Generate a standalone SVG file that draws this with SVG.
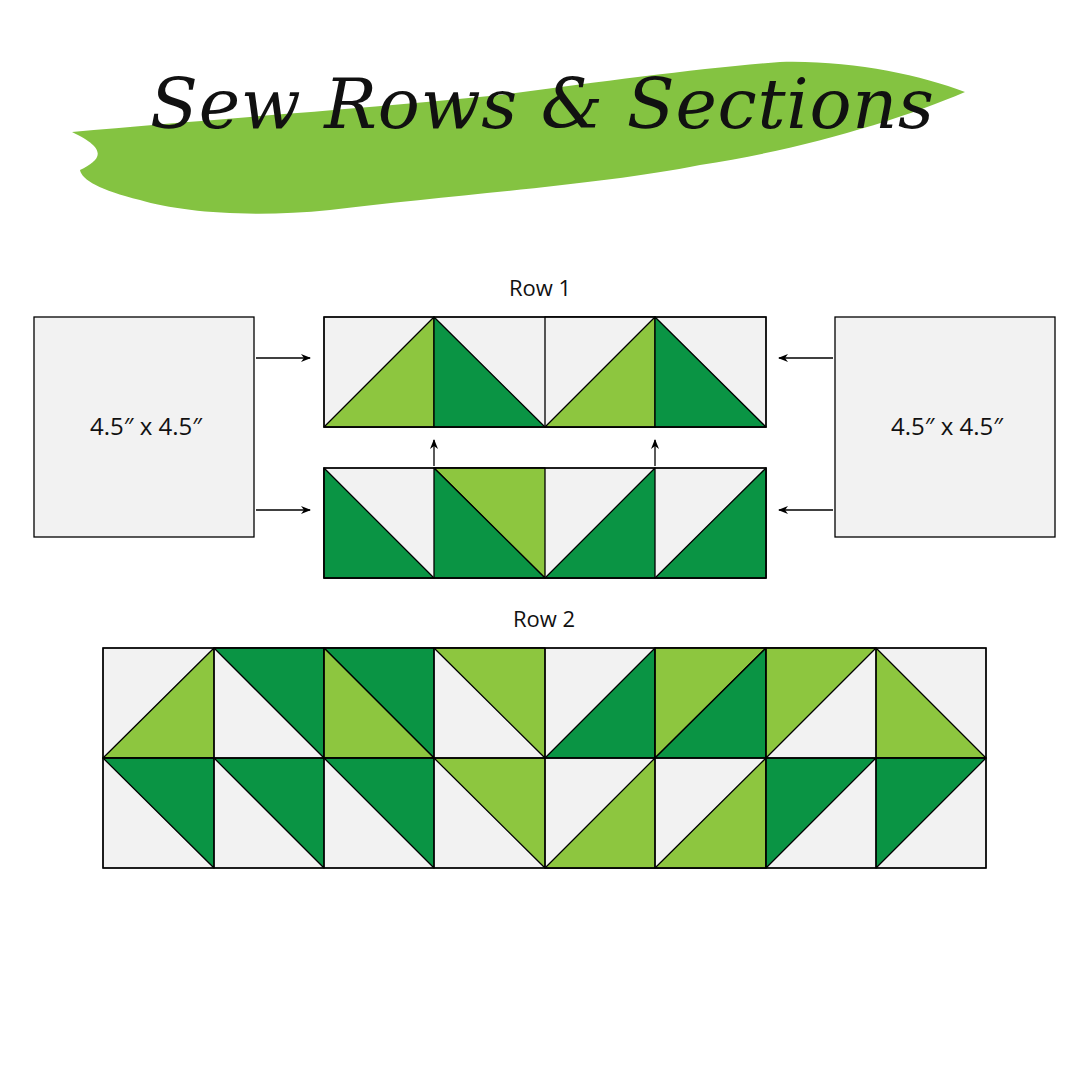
<svg xmlns="http://www.w3.org/2000/svg" width="1080" height="1080" viewBox="0 0 1080 1080">
<style>
.g{fill:#f2f2f2;stroke:#000;stroke-width:1.3}
.l{fill:#8dc63f;stroke:#000;stroke-width:1.3;stroke-linejoin:round}
.d{fill:#0a9444;stroke:#000;stroke-width:1.3;stroke-linejoin:round}
.t{font-family:"Open Sans","Liberation Sans",sans-serif;font-size:22px;fill:#111;text-anchor:middle}
.b{font-size:24px}
.c{stroke:#000;stroke-width:1.3;fill:none;marker-end:url(#a)}
</style>
<defs><marker id="a" markerWidth="10" markerHeight="8" refX="9" refY="4" orient="auto" markerUnits="userSpaceOnUse"><path d="M0,0 L10,4 L0,8 L3,4 Z" fill="#000"/></marker></defs>
<rect width="1080" height="1080" fill="#fff"/>
<g id="title">
<path d="M72,132 C200,120 350,110 500,95 C600,82 700,68 780,62 C850,60 920,75 965,92 C900,120 800,150 700,165 C600,185 450,195 330,210 C250,218 180,212 140,200 C100,190 82,180 80,170 C100,160 110,150 72,132 Z" fill="#84c341"/>
<text x="545" y="128" font-family="'DejaVu Serif','Liberation Serif',serif" font-style="italic" font-weight="200" font-size="70" fill="#111" text-anchor="middle" letter-spacing="6" textLength="790" lengthAdjust="spacing">Sew Rows &amp; Sections</text>
</g>
<text class="t" x="540" y="296">Row 1</text>
<text class="t" x="544" y="627">Row 2</text>
<g id="left-block"><rect class="g" x="34" y="317" width="220" height="220"/><text class="t b" x="146" y="435">4.5″ x 4.5″</text></g>
<g id="right-block"><rect class="g" x="835" y="317" width="220" height="220"/><text class="t b" x="947" y="435">4.5″ x 4.5″</text></g>
<g id="row1-top">
<rect class="g" x="324" y="317" width="442" height="110"/>
<path class="l" d="M324,427 L434,317 L434,427 Z"/>
<path class="d" d="M434,317 L545,427 L434,427 Z"/>
<rect class="g" x="545" y="317" width="110" height="110"/>
<path class="l" d="M545,427 L655,317 L655,427 Z"/>
<path class="d" d="M655,317 L766,427 L655,427 Z"/>
<rect x="324" y="317" width="442" height="110" fill="none" stroke="#000" stroke-width="1.3"/>
</g>
<g id="row1-bottom">
<rect class="g" x="324" y="468" width="442" height="110"/>
<path class="d" d="M324,468 L434,578 L324,578 Z"/>
<path class="l" d="M434,468 L545,468 L545,578 Z"/>
<path class="d" d="M434,468 L545,578 L434,578 Z"/>
<path class="d" d="M545,578 L655,468 L655,578 Z"/>
<path class="d" d="M655,578 L766,468 L766,578 Z"/>
<rect x="324" y="468" width="442" height="110" fill="none" stroke="#000" stroke-width="1.3"/>
</g>
<g id="row2">
<rect class="g" x="103" y="648" width="883" height="220"/>
<path class="l" d="M103,758 L214,648 L214,758 Z"/>
<path class="d" d="M214,648 L324,648 L324,758 Z"/>
<path class="d" d="M324,648 L434,648 L434,758 Z"/><path class="l" d="M324,648 L434,758 L324,758 Z"/>
<path class="l" d="M434,648 L545,648 L545,758 Z"/>
<path class="d" d="M545,758 L655,648 L655,758 Z"/>
<path class="l" d="M655,648 L766,648 L655,758 Z"/><path class="d" d="M655,758 L766,648 L766,758 Z"/>
<path class="l" d="M766,648 L876,648 L766,758 Z"/>
<path class="l" d="M876,648 L986,758 L876,758 Z"/>
<path class="d" d="M103,758 L214,758 L214,868 Z"/>
<path class="d" d="M214,758 L324,758 L324,868 Z"/>
<path class="d" d="M324,758 L434,758 L434,868 Z"/>
<path class="l" d="M434,758 L545,758 L545,868 Z"/>
<path class="l" d="M545,868 L655,758 L655,868 Z"/>
<path class="l" d="M655,868 L766,758 L766,868 Z"/>
<path class="d" d="M766,758 L876,758 L766,868 Z"/>
<path class="d" d="M876,758 L986,758 L876,868 Z"/>
<g fill="none" stroke="#000" stroke-width="1.3">
<rect x="103" y="648" width="883" height="220"/>
<path d="M214,648V868M324,648V868M434,648V868M545,648V868M655,648V868M766,648V868M876,648V868M103,758H986"/>
</g>
</g>
<g id="connectors">
<path class="c" d="M256,358 H310"/>
<path class="c" d="M256,510 H310"/>
<path class="c" d="M833,358 H779"/>
<path class="c" d="M833,510 H779"/>
<path class="c" d="M434,466 V440"/>
<path class="c" d="M655,466 V440"/>
</g>
</svg>
